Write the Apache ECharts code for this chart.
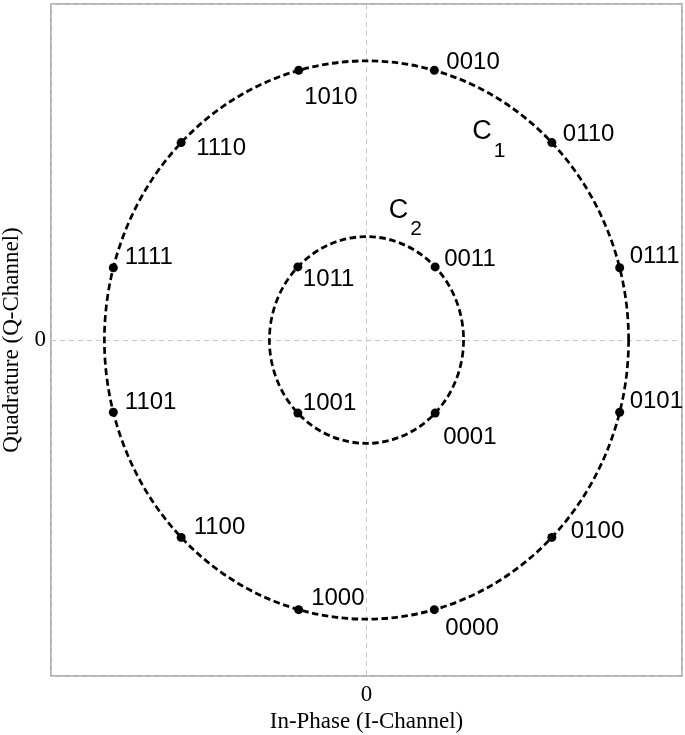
<!DOCTYPE html>
<html>
<head>
<meta charset="utf-8">
<script src="https://cdn.jsdelivr.net/npm/echarts@6/dist/echarts.min.js"></script>
<style>
  html, body { margin: 0; padding: 0; background: #fff; }
  #chart { width: 685px; height: 735px; }
</style>
</head>
<body>
<div id="chart"></div>
<script>
// ---- data (16-APSK, 4+12) ----
const bitLabels  = ['0010','0110','0111','0101','0100','0000','1000','1100','1101','1111','1110','1010',
                    '0011','1011','1001','0001'];
const amplitudes = [2.7,2.7,2.7,2.7,2.7,2.7,2.7,2.7,2.7,2.7,2.7,2.7, 1,1,1,1];
const phasesDeg  = [75,45,15,-15,-45,-75,-105,-135,-165,165,135,105, 45,135,-135,-45];
const ringRadii  = [2.7, 1.0];
const ringNames  = ['1', '2'];
const ringTagX   = [1.26, 0.40];
const ringTagY   = [2.0, 1.24];
const axisLimit  = 3.25;
const xAxisTitle = 'In-Phase (I-Channel)';
const yAxisTitle = 'Quadrature (Q-Channel)';

// label placement (styling only, pixels relative to the dot centre)
const labelOffsets = [[12,-8],[11,-8.5],[10,-11],[10,-10.5],[19,-6.5],[11,18.5],[12.5,-11],[12.5,-10.5],
                      [11.5,-9.5],[11.5,-10.5],[15,5.5],[5.5,27],[9,-8],[5,12.5],[5,-9.5],[8,24.5]];

const points = bitLabels.map((lab, i) => {
  const a = phasesDeg[i] * Math.PI / 180;
  return {
    value: [amplitudes[i] * Math.cos(a), amplitudes[i] * Math.sin(a), lab],
    label: { offset: labelOffsets[i] }
  };
});

const chart = echarts.init(document.getElementById('chart'), null, { renderer: 'canvas' });
const serif = '"Liberation Serif", "Times New Roman", serif';
const sans = '"Liberation Sans", Arial, sans-serif';

const axisCommon = {
  type: 'value',
  min: -axisLimit, max: axisLimit, interval: axisLimit,
  axisLine: { show: false },
  axisTick: { show: false },
  splitLine: { show: true, lineStyle: { color: '#c8c8c8', type: [5, 4], width: 1 } },
  nameLocation: 'middle',
  nameTextStyle: { fontFamily: serif, fontSize: 23, color: '#000' },
  axisLabel: {
    fontFamily: serif, fontSize: 23, color: '#000',
    showMinLabel: false, showMaxLabel: false,
    formatter: v => (Math.abs(v) < 1e-9 ? '0' : '')
  }
};

chart.setOption({
  animation: false,
  grid: { left: 51, right: 3, top: 4, bottom: 59, containLabel: false, outerBoundsMode: 'none',
          show: true, borderColor: '#9a9a9a', borderWidth: 1.5, backgroundColor: 'transparent' },
  xAxis: Object.assign({}, axisCommon, {
    name: xAxisTitle, nameGap: 29,
    axisLabel: Object.assign({}, axisCommon.axisLabel, { margin: 7 })
  }),
  yAxis: Object.assign({}, axisCommon, {
    name: yAxisTitle, nameGap: 25,
    axisLabel: Object.assign({}, axisCommon.axisLabel, { margin: 5 })
  }),
  series: [
    {
      type: 'custom',
      silent: true,
      data: ringRadii.map(r => [r, 0]),
      renderItem: function (params, api) {
        const r = api.value(0);
        const c = api.coord([0, 0]);
        const px = api.coord([r, 0]);
        const py = api.coord([0, r]);
        const rx = px[0] - c[0];
        const ry = c[1] - py[1];
        return {
          type: 'circle',
          x: c[0], y: c[1],
          scaleX: 1, scaleY: ry / rx,
          shape: { cx: 0, cy: 0, r: rx },
          style: { fill: 'none', stroke: '#000', lineWidth: 2.7, lineDash: [6.5, 3.5] }
        };
      },
      z: 2
    },
    {
      type: 'scatter',
      data: points,
      symbol: 'circle',
      symbolSize: 9,
      itemStyle: { color: '#000', opacity: 1 },
      label: {
        show: true,
        position: 'inside',
        align: 'left',
        verticalAlign: 'middle',
        formatter: p => p.value[2],
        fontFamily: sans, fontSize: 24, color: '#000', opacity: 1
      },
      z: 3
    },
    {
      type: 'scatter',
      data: ringNames.map((n, i) => [ringTagX[i], ringTagY[i], n]),
      symbolSize: 0,
      silent: true,
      itemStyle: { opacity: 1 },
      label: {
        show: true,
        position: 'inside',
        formatter: p => '{c|C}{s|' + p.value[2] + '}',
        rich: {
          c: { fontFamily: sans, fontSize: 27, color: '#000', lineHeight: 30, verticalAlign: 'top' },
          s: { fontFamily: sans, fontSize: 21, color: '#000', lineHeight: 30, padding: [22, 0, 0, 2], verticalAlign: 'top' }
        }
      },
      z: 3
    }
  ]
});
</script>
</body>
</html>
